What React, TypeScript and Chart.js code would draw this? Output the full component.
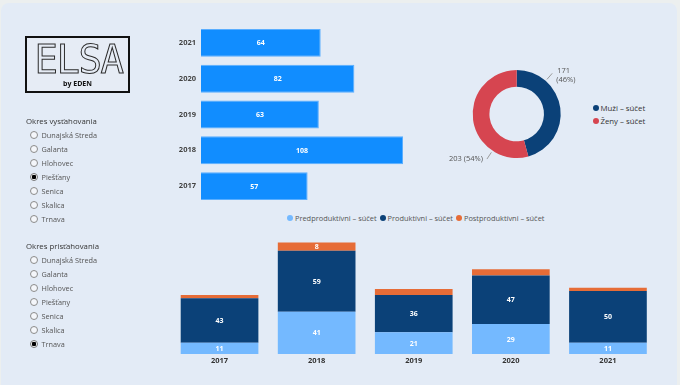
import React, { useEffect, useRef } from "react";
import { Chart, registerables } from "chart.js";
Chart.register(...registerables);

const years = ["2017", "2018", "2019", "2020", "2021"];
const totals = [57, 108, 63, 82, 64];
const genderLabels = ["Muži – súčet", "Ženy – súčet"];
const genderValues = [171, 203];
const ageLabels = ["Predproduktívni – súčet", "Produktívni – súčet", "Postproduktívni – súčet"];
const preValues = [11, 41, 21, 29, 11];
const prodValues = [43, 59, 36, 47, 50];
const postValues = [3, 8, 6, 6, 3];
const districts = ["Dunajská Streda", "Galanta", "Hlohovec", "Piešťany", "Senica", "Skalica", "Trnava"];
const selectedFrom = "Piešťany";
const selectedTo = "Trnava";

const FONT = "'Open Sans', 'Noto Sans', sans-serif";
const BLUE = "#118DFF";
const NAVY = "#0B4178";
const RED = "#D64550";
const LIGHT = "#74B9FF";
const ORANGE = "#E66C37";

const barLabels = {
  id: "barLabels",
  afterDatasetsDraw(chart: any, _args: any, opts: any) {
    const ctx = chart.ctx;
    ctx.save();
    ctx.font = `bold ${opts.size || 7}px ${FONT}`;
    ctx.fillStyle = "#ffffff";
    ctx.textAlign = "center";
    ctx.textBaseline = "middle";
    const horizontal = chart.options.indexAxis === "y";
    chart.data.datasets.forEach((ds: any, i: number) => {
      const meta = chart.getDatasetMeta(i);
      meta.data.forEach((el: any, j: number) => {
        const v = ds.data[j];
        const p = el.getProps(["x", "y", "base"], true);
        let cx: number, cy: number, len: number;
        if (horizontal) {
          cx = (p.x + p.base) / 2;
          cy = p.y;
          len = Math.abs(p.x - p.base);
        } else {
          cx = p.x;
          cy = (p.y + p.base) / 2;
          len = Math.abs(p.base - p.y);
        }
        if (len < (opts.min || 0)) return;
        ctx.fillText(String(v), cx, cy + 0.5);
      });
    });
    ctx.restore();
  },
};

const donutLabels = {
  id: "donutLabels",
  afterDatasetsDraw(chart: any) {
    const ctx = chart.ctx;
    const ds = chart.data.datasets[0];
    const total = ds.data.reduce((a: number, b: number) => a + b, 0);
    const meta = chart.getDatasetMeta(0);
    ctx.save();
    ctx.font = `7.5px ${FONT}`;
    ctx.fillStyle = "#555";
    ctx.strokeStyle = "#9a9a9a";
    ctx.lineWidth = 1;
    ctx.textBaseline = "middle";
    meta.data.forEach((el: any, j: number) => {
      const p = el.getProps(["x", "y", "startAngle", "endAngle", "outerRadius"], true);
      const a = p.startAngle + 0.25 * (p.endAngle - p.startAngle);
      const c = Math.cos(a), s = Math.sin(a);
      const x1 = p.x + (p.outerRadius + 2) * c, y1 = p.y + (p.outerRadius + 2) * s;
      const x2 = p.x + (p.outerRadius + 10) * c, y2 = p.y + (p.outerRadius + 10) * s;
      ctx.beginPath();
      ctx.moveTo(x1, y1);
      ctx.lineTo(x2, y2);
      ctx.stroke();
      const v = ds.data[j];
      const pct = `(${Math.round((v / total) * 100)}%)`;
      if (c > 0) {
        ctx.textAlign = "left";
        ctx.fillText(String(v), x2 + 5, y2 - 2);
        ctx.fillText(pct, x2 + 4, y2 + 7);
      } else {
        ctx.textAlign = "right";
        ctx.fillText(`${v} ${pct}`, x2 - 4, y2);
      }
    });
    ctx.restore();
  },
};

function HBar() {
  const ref = useRef<HTMLCanvasElement>(null);
  useEffect(() => {
    const chart = new Chart(ref.current!, {
      type: "bar",
      data: {
        labels: years,
        datasets: [
          {
            data: totals,
            backgroundColor: BLUE,
            borderColor: "#5AAEFF",
            borderWidth: 1,
            barPercentage: 0.78,
            categoryPercentage: 1,
          },
        ],
      },
      options: {
        indexAxis: "y",
        animation: false,
        responsive: false,
        maintainAspectRatio: false,
        layout: { padding: 0 },
        plugins: { legend: { display: false }, tooltip: { enabled: false }, barLabels: { size: 7, min: 0 } } as any,
        scales: {
          x: { display: false, min: 0, max: 108 },
          y: {
            reverse: true,
            grid: { display: false, drawTicks: false },
            border: { display: false },
            ticks: { color: "#444", font: { family: FONT, size: 7.5, weight: "bold" }, padding: 5 },
            afterFit: (s: any) => {
              s.width = 31;
              s.paddingTop = 0;
              s.paddingBottom = 0;
            },
          },
        },
      },
      plugins: [barLabels],
    });
    return () => chart.destroy();
  }, []);
  return <canvas ref={ref} width={233} height={179} style={{ position: "absolute", left: 170, top: 25, width: 233, height: 179 }} />;
}

function Donut() {
  const ref = useRef<HTMLCanvasElement>(null);
  useEffect(() => {
    const chart = new Chart(ref.current!, {
      type: "doughnut",
      data: {
        labels: genderLabels,
        datasets: [{ data: genderValues, backgroundColor: [NAVY, RED], borderWidth: 0 }],
      },
      options: {
        animation: false,
        responsive: false,
        maintainAspectRatio: false,
        cutout: "62%",
        layout: { padding: { left: 42.7, right: 29.3, top: 20, bottom: 17 } },
        plugins: { legend: { display: false }, tooltip: { enabled: false } },
      },
      plugins: [donutLabels],
    });
    return () => chart.destroy();
  }, []);
  return <canvas ref={ref} width={160} height={125} style={{ position: "absolute", left: 430, top: 50, width: 160, height: 125 }} />;
}

function Stacked() {
  const ref = useRef<HTMLCanvasElement>(null);
  useEffect(() => {
    const common = { barPercentage: 0.8, categoryPercentage: 1, borderWidth: 0 };
    const chart = new Chart(ref.current!, {
      type: "bar",
      data: {
        labels: years,
        datasets: [
          { label: ageLabels[0], data: preValues, backgroundColor: LIGHT, ...common },
          { label: ageLabels[1], data: prodValues, backgroundColor: NAVY, ...common },
          { label: ageLabels[2], data: postValues, backgroundColor: ORANGE, ...common },
        ],
      },
      options: {
        animation: false,
        responsive: false,
        maintainAspectRatio: false,
        layout: { padding: { left: 6, right: 8.5, top: 5, bottom: 0 } },
        plugins: { legend: { display: false }, tooltip: { enabled: false }, barLabels: { size: 7, min: 7.5 } } as any,
        scales: {
          y: { display: false, stacked: true, min: 0, max: 120 },
          x: {
            stacked: true,
            grid: { display: false, drawTicks: false },
            border: { display: false },
            ticks: { color: "#333", font: { family: FONT, size: 7.5, weight: "bold" }, padding: 2 },
            afterFit: (s: any) => {
              s.height = 21;
            },
          },
        },
      },
      plugins: [barLabels],
    });
    return () => chart.destroy();
  }, []);
  return <canvas ref={ref} width={500} height={150} style={{ position: "absolute", left: 165, top: 225, width: 500, height: 150 }} />;
}

function RadioList({ title, top, selected }: { title: string; top: number; selected: string }) {
  return (
    <>
      <div style={{ position: "absolute", left: 26, top: top - 7, lineHeight: "14px", fontSize: 7.8, color: "#333", whiteSpace: "nowrap" }}>{title}</div>
      {districts.map((d, i) => {
        const cy = top + 14 + i * 14;
        const on = d === selected;
        return (
          <React.Fragment key={d}>
            <div
              style={{
                position: "absolute",
                left: 29.5,
                top: cy - 4,
                width: 6,
                height: 6,
                borderRadius: "50%",
                border: on ? "1px solid #777" : "1px solid #8a8a8a",
                background: on ? "radial-gradient(circle, #000 0, #000 2px, #f4f4f4 2.5px)" : "#f4f6fa",
              }}
            />
            <div style={{ position: "absolute", left: 41.5, top: cy - 7, lineHeight: "14px", fontSize: 7.3, color: "#555", whiteSpace: "nowrap" }}>{d}</div>
          </React.Fragment>
        );
      })}
    </>
  );
}

function Dot({ color }: { color: string }) {
  return <span style={{ display: "inline-block", width: 6, height: 6, borderRadius: "50%", background: color, marginRight: 2, verticalAlign: "middle", position: "relative", top: -1 }} />;
}

export default function App() {
  const ageColors = [LIGHT, NAVY, ORANGE];
  return (
    <div style={{ position: "absolute", left: 0, top: 0, width: 680, height: 385, background: "#ecefef", overflow: "hidden", fontFamily: FONT }}>
      <div style={{ position: "absolute", left: 1, top: 3, width: 676, height: 400, background: "#E3EBF6", borderRadius: 8 }} />
      {/* logo */}
      <div style={{ position: "absolute", left: 25, top: 36, width: 101, height: 53, border: "2px solid #111", background: "#E6ECF5" }}>
        <div
          style={{
            position: "absolute",
            left: 4,
            top: 4,
            width: 95,
            textAlign: "center",
            fontFamily: "'DejaVu Sans Mono', monospace",
            fontSize: 39,
            lineHeight: "36px",
            letterSpacing: -1.5,
            color: "transparent",
            WebkitTextStroke: "1px #2a2a2a",
            WebkitFontSmoothing: "antialiased",
            willChange: "transform",
            opacity: 0.99,
          } as any}
        >
          ELSA
        </div>
        <div style={{ position: "absolute", left: 0, top: 41, width: 101, textAlign: "center", fontSize: 7, fontWeight: "bold", color: "#111", lineHeight: "10px" }}>by EDEN</div>
      </div>
      <RadioList title="Okres vysťahovania" top={121} selected={selectedFrom} />
      <RadioList title="Okres prisťahovania" top={245.5} selected={selectedTo} />
      <HBar />
      <Donut />
      <div style={{ position: "absolute", left: 592.5, top: 102, fontSize: 7.8, color: "#333", lineHeight: "13px", whiteSpace: "nowrap" }}>
        {genderLabels.map((l, i) => (
          <div key={l}>
            <Dot color={[NAVY, RED][i]} />
            {l}
          </div>
        ))}
      </div>
      <div style={{ position: "absolute", left: 287, top: 212, fontSize: 7.4, color: "#555", lineHeight: "13px", whiteSpace: "nowrap" }}>
        {ageLabels.map((l, i) => (
          <span key={l} style={{ marginRight: 3 }}>
            <Dot color={ageColors[i]} />
            {l}
          </span>
        ))}
      </div>
      <Stacked />
    </div>
  );
}
